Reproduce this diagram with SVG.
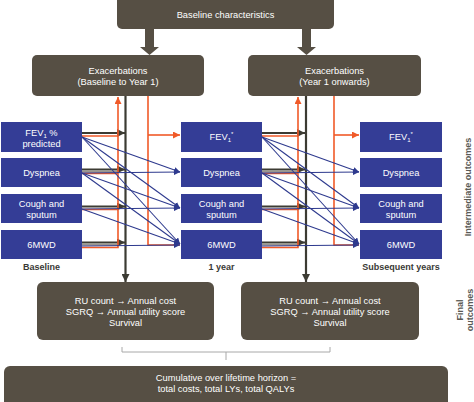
<svg xmlns="http://www.w3.org/2000/svg" width="474" height="402" viewBox="0 0 474 402">
<style>
.dk{fill:#564f44}
.bl{fill:#343d96}
.wt{fill:#ffffff;font-family:"Liberation Sans",Arial,sans-serif;font-size:9.3px;text-anchor:middle}
.lb{fill:#3a3a36;font-family:"Liberation Sans",Arial,sans-serif;font-size:9px;font-weight:bold;text-anchor:middle}
.sd{fill:#5a5a55;font-family:"Liberation Sans",Arial,sans-serif;font-size:9px;font-weight:bold;text-anchor:middle}
.ln-d{stroke:#3c3b33;stroke-width:2.2;fill:none}
.ln-g{stroke:#9a968e;stroke-width:2;fill:none}
.ln-o{stroke:#f05a28;stroke-width:1.6;fill:none}
.ln-b{stroke:#2e3a8e;stroke-width:1.1;fill:none}
.br{stroke:#a8a8a8;stroke-width:1;fill:none}
</style>
<defs>
<marker id="mb" viewBox="0 0 10 10" refX="10" refY="5" markerWidth="6" markerHeight="6" markerUnits="userSpaceOnUse" orient="auto"><path d="M0,0 L10,5 L0,10 z" fill="#2e3a8e"/></marker>
<marker id="md" viewBox="0 0 10 10" refX="10" refY="5" markerWidth="8" markerHeight="8" markerUnits="userSpaceOnUse" orient="auto"><path d="M0,0 L10,5 L0,10 z" fill="#3c3b33"/></marker>
<marker id="mo" viewBox="0 0 10 10" refX="10" refY="5" markerWidth="7" markerHeight="7" markerUnits="userSpaceOnUse" orient="auto"><path d="M0,0 L10,5 L0,10 z" fill="#f05a28"/></marker>
</defs>

<g id="connectors">
  <!-- thick arrows from baseline characteristics -->
  <polygon class="dk" points="145,29 154,29 154,47 159,47 149.5,55 140,47 145,47"/>
  <polygon class="dk" points="302,29 311,29 311,47 316,47 306.5,55 297,47 302,47"/>

  <!-- Stage A: baseline -> 1 year -->
  <line class="ln-d" x1="82" y1="133" x2="125" y2="133" marker-end="url(#md)"/>
  <line class="ln-d" x1="82" y1="169.5" x2="125" y2="169.5" marker-end="url(#md)"/>
  <line class="ln-g" x1="82" y1="171.5" x2="118" y2="171.5"/>
  <line class="ln-d" x1="82" y1="206.5" x2="125" y2="206.5" marker-end="url(#md)"/>
  <line class="ln-d" x1="82" y1="242.5" x2="125" y2="242.5" marker-end="url(#md)"/>
  <line class="ln-g" x1="82" y1="244.5" x2="118" y2="244.5"/>
  <polyline class="ln-o" points="82,136 118,136"/>
  <polyline class="ln-o" points="82,173.5 118,173.5"/>
  <polyline class="ln-o" points="82,209.5 118,209.5"/>
  <polyline class="ln-o" points="82,247.5 118,247.5 118,97" marker-end="url(#mo)"/>
  <line class="ln-d" x1="125.5" y1="96" x2="125.5" y2="282" marker-end="url(#md)"/>
  <polyline class="ln-o" points="148,96 148,245 180,245"/>
  <polyline class="ln-o" points="148,135 180,135" marker-end="url(#mo)"/>
  <line class="ln-b" x1="82" y1="137" x2="180" y2="172" marker-end="url(#mb)"/>
  <line class="ln-b" x1="82" y1="137" x2="180" y2="208" marker-end="url(#mb)"/>
  <line class="ln-b" x1="82" y1="137" x2="180" y2="244" marker-end="url(#mb)"/>
  <line class="ln-b" x1="82" y1="173" x2="180" y2="172" marker-end="url(#mb)"/>
  <line class="ln-b" x1="82" y1="173" x2="180" y2="208" marker-end="url(#mb)"/>
  <line class="ln-b" x1="82" y1="173" x2="180" y2="244" marker-end="url(#mb)"/>
  <line class="ln-b" x1="82" y1="209" x2="180" y2="208" marker-end="url(#mb)"/>
  <line class="ln-b" x1="82" y1="209" x2="180" y2="244" marker-end="url(#mb)"/>
  <line class="ln-b" x1="82" y1="246" x2="180" y2="245" marker-end="url(#mb)"/>

  <!-- Stage B: 1 year -> subsequent years -->
  <line class="ln-d" x1="262" y1="133" x2="305" y2="133" marker-end="url(#md)"/>
  <line class="ln-d" x1="262" y1="169.5" x2="305" y2="169.5" marker-end="url(#md)"/>
  <line class="ln-g" x1="262" y1="171.5" x2="298" y2="171.5"/>
  <line class="ln-d" x1="262" y1="206.5" x2="305" y2="206.5" marker-end="url(#md)"/>
  <line class="ln-d" x1="262" y1="242.5" x2="305" y2="242.5" marker-end="url(#md)"/>
  <line class="ln-g" x1="262" y1="244.5" x2="298" y2="244.5"/>
  <polyline class="ln-o" points="262,136 298,136"/>
  <polyline class="ln-o" points="262,173.5 298,173.5"/>
  <polyline class="ln-o" points="262,209.5 298,209.5"/>
  <polyline class="ln-o" points="262,247.5 298,247.5 298,97" marker-end="url(#mo)"/>
  <line class="ln-d" x1="306" y1="96" x2="306" y2="282" marker-end="url(#md)"/>
  <polyline class="ln-o" points="334,96 334,245 359,245"/>
  <polyline class="ln-o" points="334,135 359,135" marker-end="url(#mo)"/>
  <line class="ln-b" x1="262" y1="137" x2="359" y2="172" marker-end="url(#mb)"/>
  <line class="ln-b" x1="262" y1="137" x2="359" y2="208" marker-end="url(#mb)"/>
  <line class="ln-b" x1="262" y1="137" x2="359" y2="244" marker-end="url(#mb)"/>
  <line class="ln-b" x1="262" y1="173" x2="359" y2="172" marker-end="url(#mb)"/>
  <line class="ln-b" x1="262" y1="173" x2="359" y2="208" marker-end="url(#mb)"/>
  <line class="ln-b" x1="262" y1="173" x2="359" y2="244" marker-end="url(#mb)"/>
  <line class="ln-b" x1="262" y1="209" x2="359" y2="208" marker-end="url(#mb)"/>
  <line class="ln-b" x1="262" y1="209" x2="359" y2="244" marker-end="url(#mb)"/>
  <line class="ln-b" x1="262" y1="246" x2="359" y2="245" marker-end="url(#mb)"/>

  <!-- bracket -->
  <polyline class="br" points="122,347 122,352 330,352 330,347"/>
  <line class="br" x1="226" y1="352" x2="226" y2="360"/>
</g>

<g id="baseline-characteristics">
  <rect class="dk" x="117" y="-6" width="217" height="35" rx="5"/>
  <text class="wt" x="225.5" y="18">Baseline characteristics</text>
</g>
<g id="exacerbations-1">
  <rect class="dk" x="32" y="55" width="172" height="41" rx="5"/>
  <text class="wt" x="118" y="74">Exacerbations</text>
  <text class="wt" x="118" y="85">(Baseline to Year 1)</text>
</g>
<g id="exacerbations-2">
  <rect class="dk" x="248" y="55" width="173" height="41" rx="5"/>
  <text class="wt" x="334.5" y="74">Exacerbations</text>
  <text class="wt" x="334.5" y="85">(Year 1 onwards)</text>
</g>

<g id="fev1-baseline">
  <rect class="bl" x="1" y="122" width="81" height="30"/>
  <text class="wt" x="41.5" y="135.5">FEV<tspan font-size="6" dy="2">1</tspan><tspan dy="-2"> %</tspan></text>
  <text class="wt" x="41.5" y="146.5">predicted</text>
</g>
<g id="dyspnea-baseline">
  <rect class="bl" x="1" y="158" width="81" height="29"/>
  <text class="wt" x="41.5" y="175.5">Dyspnea</text>
</g>
<g id="cough-baseline">
  <rect class="bl" x="1" y="194" width="81" height="29"/>
  <text class="wt" x="41.5" y="207">Cough and</text>
  <text class="wt" x="41.5" y="218">sputum</text>
</g>
<g id="6mwd-baseline">
  <rect class="bl" x="1" y="230" width="81" height="29"/>
  <text class="wt" x="41.5" y="248">6MWD</text>
</g>

<g id="fev1-year1">
  <rect class="bl" x="181" y="122" width="81" height="30"/>
  <text class="wt" x="221.5" y="140">FEV<tspan font-size="6" dy="2">1</tspan><tspan font-size="6" dy="-6">*</tspan></text>
</g>
<g id="dyspnea-year1">
  <rect class="bl" x="181" y="158" width="81" height="29"/>
  <text class="wt" x="221.5" y="175.5">Dyspnea</text>
</g>
<g id="cough-year1">
  <rect class="bl" x="181" y="194" width="81" height="29"/>
  <text class="wt" x="221.5" y="207">Cough and</text>
  <text class="wt" x="221.5" y="218">sputum</text>
</g>
<g id="6mwd-year1">
  <rect class="bl" x="181" y="230" width="81" height="29"/>
  <text class="wt" x="221.5" y="248">6MWD</text>
</g>

<g id="fev1-subsequent">
  <rect class="bl" x="360" y="122" width="82" height="30"/>
  <text class="wt" x="401" y="140">FEV<tspan font-size="6" dy="2">1</tspan><tspan font-size="6" dy="-6">*</tspan></text>
</g>
<g id="dyspnea-subsequent">
  <rect class="bl" x="360" y="158" width="82" height="29"/>
  <text class="wt" x="401" y="175.5">Dyspnea</text>
</g>
<g id="cough-subsequent">
  <rect class="bl" x="360" y="194" width="82" height="29"/>
  <text class="wt" x="401" y="207">Cough and</text>
  <text class="wt" x="401" y="218">sputum</text>
</g>
<g id="6mwd-subsequent">
  <rect class="bl" x="360" y="230" width="82" height="29"/>
  <text class="wt" x="401" y="248">6MWD</text>
</g>

<g id="column-labels">
  <text class="lb" x="41.5" y="269.5">Baseline</text>
  <text class="lb" x="221.5" y="269.5">1 year</text>
  <text class="lb" x="401" y="269.5">Subsequent years</text>
  <text class="sd" transform="translate(471,187) rotate(-90)">Intermediate outcomes</text>
  <text class="sd" transform="translate(462.5,310) rotate(-90)">Final</text>
  <text class="sd" transform="translate(473,310) rotate(-90)">outcomes</text>
</g>

<g id="outcomes-1">
  <rect class="dk" x="37" y="282" width="177" height="58" rx="6"/>
  <text class="wt" x="125.5" y="304">RU count → Annual cost</text>
  <text class="wt" x="125.5" y="315">SGRQ → Annual utility score</text>
  <text class="wt" x="125.5" y="326">Survival</text>
</g>
<g id="outcomes-2">
  <rect class="dk" x="241" y="282" width="178" height="58" rx="6"/>
  <text class="wt" x="330" y="304">RU count → Annual cost</text>
  <text class="wt" x="330" y="315">SGRQ → Annual utility score</text>
  <text class="wt" x="330" y="326">Survival</text>
</g>
<g id="cumulative">
  <rect class="dk" x="4" y="366" width="444" height="42" rx="6"/>
  <text class="wt" x="226" y="381">Cumulative over lifetime horizon =</text>
  <text class="wt" x="226" y="392">total costs, total LYs, total QALYs</text>
</g>
</svg>
